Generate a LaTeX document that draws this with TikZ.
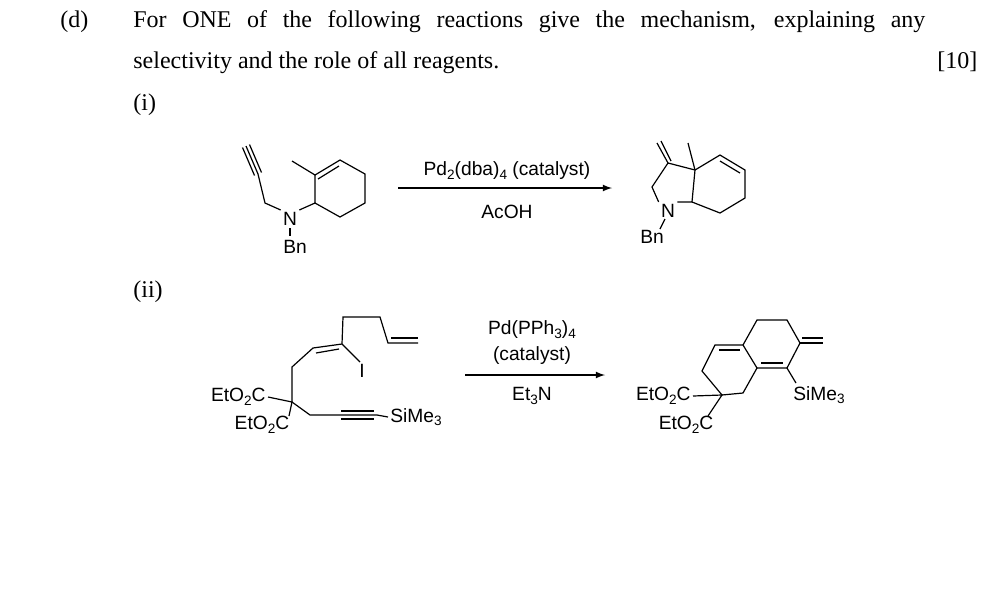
\documentclass[tikz,border=0pt]{standalone}
\usepackage{fontspec}
\usetikzlibrary{calc}
\setmainfont{Liberation Serif}
\newfontfamily\chemfont{Liberation Sans}
\newcommand{\chsub}[1]{\raisebox{-0.35ex}{\fontsize{6.8pt}{8pt}\selectfont #1}}
\begin{document}
\begin{tikzpicture}[x=0.5pt,y=-0.5pt,
  txt/.style={font=\fontsize{12pt}{14pt}\selectfont,inner sep=0pt,anchor=base west},
  lab/.style={font=\chemfont\fontsize{9.6pt}{11pt}\selectfont,inner sep=1pt},
  bond/.style={line width=0.6pt},
  arr/.style={line width=0.6pt,-{latex}}]
\useasboundingbox (0,0) rectangle (992,591);
\fill[white] (0,0) rectangle (992,591);
% text
\node[txt] (d) at (60,27) {(d)};
\node[txt] (l1) at (133,27) {\makebox[396pt][s]{For ONE of the following reactions give the mechanism, explaining any}};
\node[txt] (l2) at (133,68) {selectivity and the role of all reagents.};
\node[txt] (ten) at (937,68) {[10]};
\node[txt] (i) at (133,110) {(i)};
\node[txt] (ii) at (133,297) {(ii)};
% ---- reaction (i) starting material
\node[lab] (N1) at (290,219) {N};
\node[lab] (Bn1) at (295,247) {Bn};
\draw[bond] (N1.south) ++(0,0) -- ++(0,8);
\coordinate (ch2) at (265,203);
\coordinate (a1) at (258,174);
\coordinate (a2) at (246,146);
\draw[bond] (N1.north west) -- (ch2) -- (a1);
\draw[bond] (a1) -- (a2);
\draw[bond] ($(a1)+(3.5,-1.5)$) -- ($(a2)+(3.5,-1.5)$);
\draw[bond] ($(a1)+(-3.5,1.5)$) -- ($(a2)+(-3.5,1.5)$);
\coordinate (r1) at (315,203);
\coordinate (r2) at (315,175);
\coordinate (r3) at (340,160);
\coordinate (r4) at (365,174);
\coordinate (r5) at (365,203);
\coordinate (r6) at (340,217);
\draw[bond] (N1.north east) -- (r1) -- (r2) -- (r3) -- (r4) -- (r5) -- (r6) -- (r1);
\draw[bond] (318,179) -- (339,166);
\draw[bond] (r2) -- (292,161);
% arrow (i)
\coordinate (ar1s) at (398,188);
\coordinate (ar1e) at (612,188);
\draw[arr] (ar1s) -- (ar1e);
\node[lab] (cat1) at (507,171) {Pd\chsub{2}(dba)\chsub{4} (catalyst)};
\node[lab] (acoh) at (507,212) {AcOH};
% product (i)
\node[lab] (N2) at (668,211) {N};
\node[lab] (Bn2) at (652,237) {Bn};
\draw[bond] (665,219) -- (660,229);
\coordinate (p1) at (652,187);
\coordinate (p2) at (668,163);
\coordinate (p3) at (695,170);
\coordinate (p4) at (692,202);
\draw[bond] (N2.north west) -- (p1) -- (p2) -- (p3) -- (p4) -- (N2.north east);
\draw[bond] (p2) -- (657,143);
\draw[bond] (671,161) -- (661,141);
\draw[bond] (p3) -- (688,143);
\coordinate (q1) at (720,155);
\coordinate (q2) at (745,170);
\coordinate (q3) at (745,198);
\coordinate (q4) at (720,213);
\draw[bond] (p3) -- (q1) -- (q2) -- (q3) -- (q4) -- (p4);
\draw[bond] (720,161) -- (740,173);
% ---- reaction (ii) starting material
\coordinate (c0) at (292,402);
\node[lab,anchor=east] (e1) at (268,397) {EtO\chsub{2}C};
\node[lab] (e2) at (262,425) {EtO\chsub{2}C};
\draw[bond] (e1.east) -- (c0) -- (289,416);
\coordinate (s1) at (292,367);
\coordinate (s2) at (313,348);
\coordinate (s3) at (342,344);
\coordinate (s4) at (343,317);
\coordinate (s5) at (380,317);
\coordinate (s6) at (388,343);
\coordinate (s7) at (418,343);
\draw[bond] (c0) -- (s1) -- (s2) -- (s3) -- (s4) -- (s5) -- (s6) -- (s7);
\draw[bond] (316,353) -- (339,349);
\draw[bond] (391,338) -- (418,338);
\node[lab] (I) at (362,371) {I};
\draw[bond] (s3) -- (360,362);
\coordinate (t1) at (310,415);
\coordinate (t2) at (338,415);
\coordinate (t3) at (377,415);
\node[lab,anchor=west] (tms1) at (388,417) {SiMe\chsub{3}};
\draw[bond] (c0) -- (t1) -- (t2) -- (t3) -- (tms1.west);
\draw[bond] (341,411) -- (374,411);
\draw[bond] (341,419) -- (374,419);
% arrow (ii)
\draw[arr] (465,375) -- (605,375);
\node[lab] (cat2a) at (532,330) {Pd(PPh\chsub{3})\chsub{4}};
\node[lab] (cat2b) at (532,356) {(catalyst)};
\node[lab] (et3n) at (532,396) {Et\chsub{3}N};
% product (ii)
\coordinate (k0) at (722,395);
\node[lab,anchor=east] (e3) at (693,396) {EtO\chsub{2}C};
\node[lab] (e4) at (686,425) {EtO\chsub{2}C};
\draw[bond] (e3.east) -- (k0) -- (708,416);
\coordinate (u1) at (702,371);
\coordinate (u2) at (715,345);
\coordinate (u3) at (743,345);
\coordinate (u4) at (757,368);
\coordinate (u5) at (743,393);
\draw[bond] (k0) -- (u1) -- (u2) -- (u3) -- (u4) -- (u5) -- (k0);
\draw[bond] (719,350) -- (740,350);
\coordinate (v1) at (757,320);
\coordinate (v2) at (787,320);
\coordinate (v3) at (800,343);
\coordinate (v4) at (787,368);
\draw[bond] (u3) -- (v1) -- (v2) -- (v3) -- (v4) -- (u4);
\draw[bond] (761,363) -- (783,363);
\draw[bond] (v3) -- (823,343);
\draw[bond] (802,338) -- (823,338);
\node[lab,anchor=north west] (tms2) at (791,384) {SiMe\chsub{3}};
\draw[bond] (v4) -- (796,383);
\end{tikzpicture}
\end{document}
